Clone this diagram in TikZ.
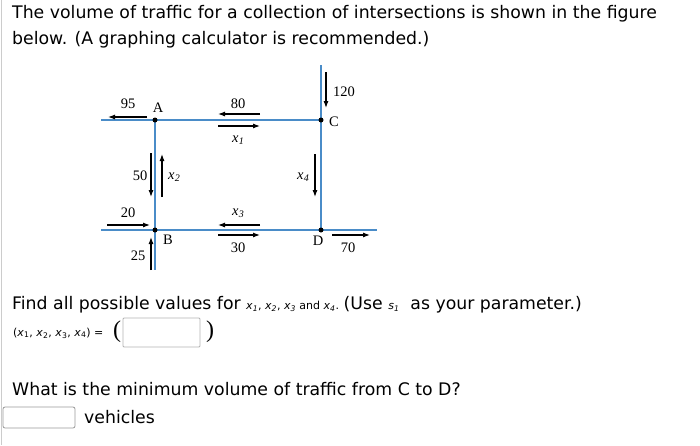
\documentclass[tikz,border=0pt]{standalone}
\usepackage{fontspec}
\usetikzlibrary{arrows.meta}
\setmainfont{DejaVu Sans}
\newfontfamily\dia{Liberation Serif}
\newcommand{\vx}[1]{{\dia\itshape x\kern0.5pt\raisebox{-0.3ex}{\fontsize{10}{11}\selectfont #1}}}
\definecolor{roadc}{HTML}{4A8CC8}
\begin{document}
\begin{tikzpicture}[x=1pt,y=-1pt,
 road/.style={draw=roadc,line width=1.6pt},
 flow/.style={-{Latex[length=7pt,width=5pt]},line width=1.1pt},
 lab/.style={font=\dia\fontsize{14.5}{15}\selectfont,inner sep=0pt},
 txt/.style={anchor=west,inner sep=0pt,font=\fontsize{17.3}{19}\selectfont},
 sml/.style={inner sep=0pt,font=\fontsize{11}{12}\selectfont},
 dot/.style={circle,fill=black,inner sep=0pt,minimum size=5pt}]
\useasboundingbox (0,0) rectangle (700,445);
\draw[gray!40] (1.5,0) -- (1.5,445);
\node[txt] (t1) at (12,14) {The volume of traffic for a collection of intersections is shown in the figure};
\node[txt] (t2) at (12,40) {below. (A graphing calculator is recommended.)};
\coordinate (A) at (155,120); \coordinate (C) at (321,120);
\coordinate (B) at (155,230); \coordinate (D) at (321,230);
\coordinate (tl) at (101,120); \coordinate (ct) at (321,65);
\coordinate (bl) at (101,230); \coordinate (br) at (377,230);
\coordinate (ab) at (155,270);
\draw[road] (tl) -- (C); \draw[road] (ct) -- (D);
\draw[road] (bl) -- (br); \draw[road] (A) -- (ab);
\foreach \p in {A,B,C,D} \node[dot] at (\p) {};
\coordinate (f1s) at (147,117); \coordinate (f1e) at (108,117);
\draw[flow] (f1s) -- (f1e); \node[lab] (l95) at (128,104) {95};
\node[lab] (nA) at (158,108) {A};
\coordinate (f2s) at (260,114); \coordinate (f2e) at (218,114);
\draw[flow] (f2s) -- (f2e); \node[lab] (l80) at (238,104) {80};
\coordinate (f3s) at (218,126); \coordinate (f3e) at (260,126);
\draw[flow] (f3s) -- (f3e); \node[lab] (lx1) at (238,140) {\vx1};
\coordinate (f4s) at (326,72); \coordinate (f4e) at (326,108);
\draw[flow] (f4s) -- (f4e); \node[lab] (l120) at (344,92) {120};
\node[lab] (nC) at (334,122) {C};
\coordinate (f5s) at (151,153); \coordinate (f5e) at (151,197);
\draw[flow] (f5s) -- (f5e); \node[lab] (l50) at (140,176) {50};
\coordinate (f6s) at (162,197); \coordinate (f6e) at (162,154);
\draw[flow] (f6s) -- (f6e); \node[lab] (lx2) at (174,177) {\vx2};
\coordinate (f7s) at (315,154); \coordinate (f7e) at (315,197);
\draw[flow] (f7s) -- (f7e); \node[lab] (lx4) at (303,177) {\vx4};
\coordinate (f8s) at (107,225); \coordinate (f8e) at (150,225);
\draw[flow] (f8s) -- (f8e); \node[lab] (l20) at (128,213) {20};
\coordinate (f9s) at (260,225); \coordinate (f9e) at (218,225);
\draw[flow] (f9s) -- (f9e); \node[lab] (lx3) at (238,213) {\vx3};
\coordinate (g1s) at (218,235); \coordinate (g1e) at (260,235);
\draw[flow] (g1s) -- (g1e); \node[lab] (l30) at (238,248) {30};
\node[lab] (nB) at (168,240) {B};
\node[lab] (nD) at (318,241) {D};
\coordinate (g2s) at (332,235); \coordinate (g2e) at (370,235);
\draw[flow] (g2s) -- (g2e); \node[lab] (l70) at (348,248) {70};
\coordinate (g3s) at (151,270); \coordinate (g3e) at (151,237);
\draw[flow] (g3s) -- (g3e); \node[lab] (l25) at (138,256) {25};
\node[txt] (t3) at (12,305) {Find all possible values for \fontsize{11}{12}\selectfont\itshape x\textsubscript{1}\upshape, \itshape x\textsubscript{2}\upshape, \itshape x\textsubscript{3} \upshape and \itshape x\textsubscript{4}\upshape. \fontsize{17.3}{19}\selectfont(Use \fontsize{11}{12}\selectfont\itshape s\textsubscript{1}\upshape\fontsize{17.3}{19}\selectfont\ \ as your parameter.)};
\node[sml,anchor=west] (t4) at (13,333) {(\textit{x}\textsubscript{1}, \textit{x}\textsubscript{2}, \textit{x}\textsubscript{3}, \textit{x}\textsubscript{4}) =};
\node[inner sep=0pt,font=\fontsize{24}{26}\selectfont\dia] (p1) at (117,332) {(};
\draw[gray!60,line width=0.8pt,rounded corners=1pt] (123,318) rectangle (200,347);
\node[inner sep=0pt,font=\fontsize{24}{26}\selectfont\dia] (p2) at (210,332) {)};
\node[txt] (t5) at (12,389) {What is the minimum volume of traffic from C to D?};
\draw[gray!80,line width=0.8pt,rounded corners=2pt] (3,407) rectangle (75,428);
\node[txt] (t6) at (84,417) {vehicles};
\end{tikzpicture}
\end{document}
